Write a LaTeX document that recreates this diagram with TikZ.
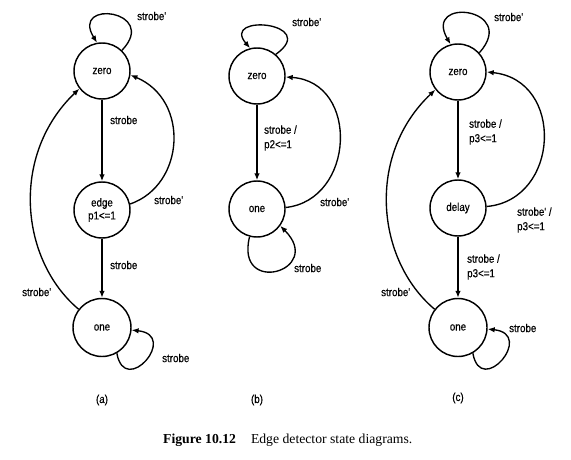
\documentclass[tikz,border=0pt]{standalone}
\usepackage{fontspec}
\setmainfont{Liberation Serif}
\newfontfamily\labfont[FakeStretch=0.85,FakeBold=0.4]{Liberation Sans}
\usetikzlibrary{arrows.meta}
\begin{document}
\begin{tikzpicture}[x=1pt,y=-1pt,
  state/.style={draw,circle,line width=1.45pt,minimum size=56pt,inner sep=0pt,
    font=\labfont\fontsize{11.5}{13}\selectfont,align=center},
  bigstate/.style={state,minimum size=58pt},
  tr/.style={line width=1.35pt,-{Latex[length=7pt,width=5.5pt]}},
  lab/.style={font=\labfont\fontsize{11.5}{14.5}\selectfont,align=left,anchor=west,inner sep=0pt},
  sub/.style={font=\labfont\fontsize{11.5}{14}\selectfont,inner sep=0pt}]
\useasboundingbox (0,0) rectangle (571,460);

% ---------- (a) ----------
\node[state] (az) at (102,71) {zero};
\node[state] (ae) at (102,210) {edge\\p1<=1};
\node[bigstate] (ao) at (102,327.5) {one};
\draw[tr] (az.46) .. controls +(38,-40) and +(-27,-44) .. (az.100);
\draw[tr] (az) -- (ae);
\draw[tr] (ae) -- (ao);
\draw[tr] (ae.12) .. controls (185,185) and (190,100) .. (az.-8);
\draw[tr] (ao.142) .. controls (20,260) and (10,155) .. (az.218);
\draw[tr] (ao.-60) .. controls +(8,45) and +(48,5) .. (ao.-5);
\node[lab] (al1) at (137,16) {strobe'};
\node[lab] (al2) at (110,120) {strobe};
\node[lab] (al3) at (154,200) {strobe'};
\node[lab] (al4) at (110,265) {strobe};
\node[lab] (al5) at (22,292) {strobe'};
\node[lab] (al6) at (162,358) {strobe};
\node[sub] (acap) at (102,400) {(a)};

% ---------- (b) ----------
\node[state] (bz) at (257,76) {zero};
\node[state] (bo) at (257,209) {one};
\draw[tr] (bz.49) .. controls +(45,-32) and +(-30,-35) .. (bz.104);
\draw[tr] (bz) -- (bo);
\draw[tr] (bo.3) .. controls (355,200) and (360,82) .. (bz.-2);
\draw[tr] (bo.-105) .. controls +(-15,60) and +(45,45) .. (bo.-36);
\node[lab] (bl1) at (292,22) {strobe'};
\node[lab] (bl2) at (264,138) {strobe /\\p2<=1};
\node[lab] (bl3) at (320,202) {strobe'};
\node[lab] (bl4) at (294,268) {strobe};
\node[sub] (bcap) at (257,400) {(b)};

% ---------- (c) ----------
\node[state] (cz) at (458,72) {zero};
\node[state] (cd) at (458,208) {delay};
\node[bigstate] (co) at (458,327.5) {one};
\draw[tr] (cz.42) .. controls +(40,-45) and +(-28,-48) .. (cz.105);
\draw[tr] (cz) -- (cd);
\draw[tr] (cd) -- (co);
\draw[tr] (cd.3) .. controls (560,200) and (565,80) .. (cz.0);
\draw[tr] (co.142) .. controls (376,260) and (366,155) .. (cz.218);
\draw[tr] (co.-60) .. controls +(8,45) and +(48,5) .. (co.-3);
\node[lab] (cl1) at (494,17) {strobe'};
\node[lab] (cl2) at (469,132) {strobe /\\p3<=1};
\node[lab] (cl3) at (517,220) {strobe' /\\p3<=1};
\node[lab] (cl4) at (467,267) {strobe /\\p3<=1};
\node[lab] (cl5) at (381,292) {strobe'};
\node[lab] (cl6) at (509,328) {strobe};
\node[sub] (ccap) at (458,398) {(c)};

% ---------- caption ----------
\node[anchor=west,inner sep=0pt,font=\fontsize{13.7}{16}\selectfont] (cap) at (163,440)
  {\textbf{Figure 10.12}\hspace{15pt}Edge detector state diagrams.};
\end{tikzpicture}
\end{document}
